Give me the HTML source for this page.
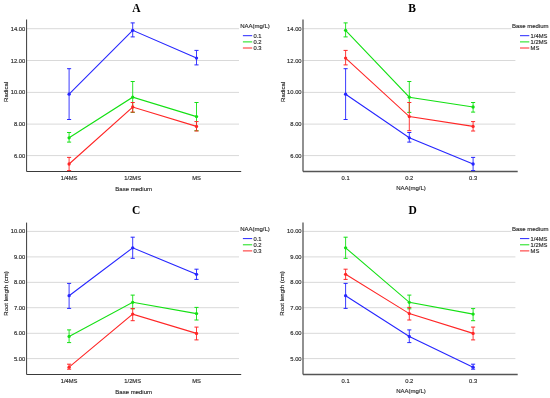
<!DOCTYPE html><html><head><meta charset="utf-8"><style>html,body{margin:0;padding:0;background:#fff;overflow:hidden}svg{display:block;filter:blur(0.35px)}.s{font-family:"Liberation Sans",sans-serif;font-size:5.80px;fill:#2a2a2a;stroke:#2a2a2a;stroke-width:0.15px}.t{font-size:6.0px}</style></head><body>
<svg width="550" height="398" viewBox="0 0 550 398">
<rect width="550" height="398" fill="#fff"/>
<defs>
<clipPath id="clipA"><rect x="26.6" y="15" width="216" height="156.5"/></clipPath>
<clipPath id="clipB"><rect x="303.0" y="15" width="216" height="156.5"/></clipPath>
<clipPath id="clipC"><rect x="26.6" y="217.9" width="216" height="156.5"/></clipPath>
<clipPath id="clipD"><rect x="303.0" y="217.9" width="216" height="156.5"/></clipPath>
</defs>
<text x="136.4" y="11.50" text-anchor="middle" font-family="Liberation Serif" font-weight="bold" font-size="11.5">A</text>
<line x1="26.6" x2="239" y1="28.70" y2="28.70" stroke="#d9d9d9" stroke-width="1"/>
<text x="25.20" y="30.75" text-anchor="end" class="s">14.00</text>
<line x1="26.6" x2="239" y1="60.50" y2="60.50" stroke="#d9d9d9" stroke-width="1"/>
<text x="25.20" y="62.55" text-anchor="end" class="s">12.00</text>
<line x1="26.6" x2="239" y1="92.40" y2="92.40" stroke="#d9d9d9" stroke-width="1"/>
<text x="25.20" y="94.45" text-anchor="end" class="s">10.00</text>
<line x1="26.6" x2="239" y1="124.10" y2="124.10" stroke="#d9d9d9" stroke-width="1"/>
<text x="25.20" y="126.15" text-anchor="end" class="s">8.00</text>
<line x1="26.6" x2="239" y1="155.60" y2="155.60" stroke="#d9d9d9" stroke-width="1"/>
<text x="25.20" y="157.65" text-anchor="end" class="s">6.00</text>
<line x1="26.6" x2="26.6" y1="19.50" y2="171.50" stroke="#3a3a3a" stroke-width="1"/>
<line x1="26.6" x2="241.2" y1="171.50" y2="171.50" stroke="#3a3a3a" stroke-width="1"/>
<text transform="translate(8.30,91.90) rotate(-90)" text-anchor="middle" class="s t">Radical</text>
<text x="69.10" y="180.10" text-anchor="middle" class="s">1/4MS</text>
<text x="132.70" y="180.10" text-anchor="middle" class="s">1/2MS</text>
<text x="196.50" y="180.10" text-anchor="middle" class="s">MS</text>
<text x="133.70" y="191.30" text-anchor="middle" class="s t">Base medium</text>
<rect x="239.7" y="22" width="309.8" height="8" fill="#fff"/>
<text x="240.2" y="28.10" class="s t">NAA(mg/L)</text>
<line x1="242.9" x2="252.20000000000002" y1="35.70" y2="35.70" stroke="#2626ff" stroke-width="1" opacity="1"/>
<text x="253.5" y="37.70" class="s">0.1</text>
<line x1="242.9" x2="252.20000000000002" y1="41.90" y2="41.90" stroke="#14e014" stroke-width="1" opacity="1"/>
<text x="253.5" y="43.90" class="s">0.2</text>
<line x1="242.9" x2="252.20000000000002" y1="48.00" y2="48.00" stroke="#ff2626" stroke-width="1" opacity="1"/>
<text x="253.5" y="50.00" class="s">0.3</text>
<g clip-path="url(#clipA)">
<line x1="69.10" x2="69.10" y1="68.70" y2="119.50" stroke="#2626ff" stroke-width="0.9"/>
<line x1="67.05" x2="71.15" y1="68.70" y2="68.70" stroke="#2626ff" stroke-width="1"/>
<line x1="67.05" x2="71.15" y1="119.50" y2="119.50" stroke="#2626ff" stroke-width="1"/>
<line x1="132.70" x2="132.70" y1="22.90" y2="36.90" stroke="#2626ff" stroke-width="0.9"/>
<line x1="130.65" x2="134.75" y1="22.90" y2="22.90" stroke="#2626ff" stroke-width="1"/>
<line x1="130.65" x2="134.75" y1="36.90" y2="36.90" stroke="#2626ff" stroke-width="1"/>
<line x1="196.50" x2="196.50" y1="50.40" y2="64.90" stroke="#2626ff" stroke-width="0.9"/>
<line x1="194.45" x2="198.55" y1="50.40" y2="50.40" stroke="#2626ff" stroke-width="1"/>
<line x1="194.45" x2="198.55" y1="64.90" y2="64.90" stroke="#2626ff" stroke-width="1"/>
<polyline points="69.10,94.20 132.70,30.30 196.50,58.10" fill="none" stroke="#2626ff" stroke-width="1.1"/>
<circle cx="69.10" cy="94.20" r="1.65" fill="#2626ff"/>
<circle cx="132.70" cy="30.30" r="1.65" fill="#2626ff"/>
<circle cx="196.50" cy="58.10" r="1.65" fill="#2626ff"/>
<line x1="69.10" x2="69.10" y1="132.50" y2="142.10" stroke="#14e014" stroke-width="0.9"/>
<line x1="67.05" x2="71.15" y1="132.50" y2="132.50" stroke="#14e014" stroke-width="1"/>
<line x1="67.05" x2="71.15" y1="142.10" y2="142.10" stroke="#14e014" stroke-width="1"/>
<line x1="132.70" x2="132.70" y1="81.50" y2="112.40" stroke="#14e014" stroke-width="0.9"/>
<line x1="130.65" x2="134.75" y1="81.50" y2="81.50" stroke="#14e014" stroke-width="1"/>
<line x1="130.65" x2="134.75" y1="112.40" y2="112.40" stroke="#14e014" stroke-width="1"/>
<line x1="196.50" x2="196.50" y1="102.50" y2="130.70" stroke="#14e014" stroke-width="0.9"/>
<line x1="194.45" x2="198.55" y1="102.50" y2="102.50" stroke="#14e014" stroke-width="1"/>
<line x1="194.45" x2="198.55" y1="130.70" y2="130.70" stroke="#14e014" stroke-width="1"/>
<polyline points="69.10,137.80 132.70,97.20 196.50,116.60" fill="none" stroke="#14e014" stroke-width="1.1"/>
<circle cx="69.10" cy="137.80" r="1.65" fill="#14e014"/>
<circle cx="132.70" cy="97.20" r="1.65" fill="#14e014"/>
<circle cx="196.50" cy="116.60" r="1.65" fill="#14e014"/>
<line x1="69.10" x2="69.10" y1="157.40" y2="170.60" stroke="#ff2626" stroke-width="0.9"/>
<line x1="67.05" x2="71.15" y1="157.40" y2="157.40" stroke="#ff2626" stroke-width="1"/>
<line x1="67.05" x2="71.15" y1="170.60" y2="170.60" stroke="#ff2626" stroke-width="1"/>
<line x1="132.70" x2="132.70" y1="102.50" y2="112.10" stroke="#ff2626" stroke-width="0.9"/>
<line x1="130.65" x2="134.75" y1="102.50" y2="102.50" stroke="#ff2626" stroke-width="1"/>
<line x1="130.65" x2="134.75" y1="112.10" y2="112.10" stroke="#ff2626" stroke-width="1"/>
<line x1="196.50" x2="196.50" y1="121.60" y2="131.00" stroke="#ff2626" stroke-width="0.9"/>
<line x1="194.45" x2="198.55" y1="121.60" y2="121.60" stroke="#ff2626" stroke-width="1"/>
<line x1="194.45" x2="198.55" y1="131.00" y2="131.00" stroke="#ff2626" stroke-width="1"/>
<polyline points="69.10,164.00 132.70,107.00 196.50,126.40" fill="none" stroke="#ff2626" stroke-width="1.1"/>
<circle cx="69.10" cy="164.00" r="1.65" fill="#ff2626"/>
<circle cx="132.70" cy="107.00" r="1.65" fill="#ff2626"/>
<circle cx="196.50" cy="126.40" r="1.65" fill="#ff2626"/>
</g>
<text x="412.2" y="11.70" text-anchor="middle" font-family="Liberation Serif" font-weight="bold" font-size="11.5">B</text>
<line x1="303.0" x2="515.4" y1="28.70" y2="28.70" stroke="#d9d9d9" stroke-width="1"/>
<text x="301.60" y="30.75" text-anchor="end" class="s">14.00</text>
<line x1="303.0" x2="515.4" y1="60.50" y2="60.50" stroke="#d9d9d9" stroke-width="1"/>
<text x="301.60" y="62.55" text-anchor="end" class="s">12.00</text>
<line x1="303.0" x2="515.4" y1="92.40" y2="92.40" stroke="#d9d9d9" stroke-width="1"/>
<text x="301.60" y="94.45" text-anchor="end" class="s">10.00</text>
<line x1="303.0" x2="515.4" y1="124.10" y2="124.10" stroke="#d9d9d9" stroke-width="1"/>
<text x="301.60" y="126.15" text-anchor="end" class="s">8.00</text>
<line x1="303.0" x2="515.4" y1="155.60" y2="155.60" stroke="#d9d9d9" stroke-width="1"/>
<text x="301.60" y="157.65" text-anchor="end" class="s">6.00</text>
<line x1="303.0" x2="303.0" y1="19.50" y2="171.50" stroke="#555" stroke-width="1.3"/>
<line x1="303.0" x2="517.7" y1="171.50" y2="171.50" stroke="#555" stroke-width="1.3"/>
<text transform="translate(284.70,91.90) rotate(-90)" text-anchor="middle" class="s t">Radical</text>
<text x="345.60" y="180.10" text-anchor="middle" class="s">0.1</text>
<text x="409.30" y="180.10" text-anchor="middle" class="s">0.2</text>
<text x="473.10" y="180.10" text-anchor="middle" class="s">0.3</text>
<text x="411.00" y="190.10" text-anchor="middle" class="s t">NAA(mg/L)</text>
<rect x="511.4" y="22" width="38.10000000000002" height="8" fill="#fff"/>
<text x="511.9" y="28.10" class="s t">Base medium</text>
<line x1="520.0" x2="529.3" y1="35.70" y2="35.70" stroke="#2626ff" stroke-width="1" opacity="1"/>
<text x="530.6" y="37.70" class="s">1/4MS</text>
<line x1="520.0" x2="529.3" y1="41.90" y2="41.90" stroke="#14e014" stroke-width="1" opacity="1"/>
<text x="530.6" y="43.90" class="s">1/2MS</text>
<line x1="520.0" x2="529.3" y1="48.00" y2="48.00" stroke="#ff2626" stroke-width="1" opacity="1"/>
<text x="530.6" y="50.00" class="s">MS</text>
<g clip-path="url(#clipB)">
<line x1="345.60" x2="345.60" y1="68.70" y2="119.50" stroke="#2626ff" stroke-width="0.9"/>
<line x1="343.55" x2="347.65" y1="68.70" y2="68.70" stroke="#2626ff" stroke-width="1"/>
<line x1="343.55" x2="347.65" y1="119.50" y2="119.50" stroke="#2626ff" stroke-width="1"/>
<line x1="409.30" x2="409.30" y1="132.50" y2="142.10" stroke="#2626ff" stroke-width="0.9"/>
<line x1="407.25" x2="411.35" y1="132.50" y2="132.50" stroke="#2626ff" stroke-width="1"/>
<line x1="407.25" x2="411.35" y1="142.10" y2="142.10" stroke="#2626ff" stroke-width="1"/>
<line x1="473.10" x2="473.10" y1="157.40" y2="170.60" stroke="#2626ff" stroke-width="0.9"/>
<line x1="471.05" x2="475.15" y1="157.40" y2="157.40" stroke="#2626ff" stroke-width="1"/>
<line x1="471.05" x2="475.15" y1="170.60" y2="170.60" stroke="#2626ff" stroke-width="1"/>
<polyline points="345.60,94.20 409.30,137.80 473.10,164.00" fill="none" stroke="#2626ff" stroke-width="1.1"/>
<circle cx="345.60" cy="94.20" r="1.65" fill="#2626ff"/>
<circle cx="409.30" cy="137.80" r="1.65" fill="#2626ff"/>
<circle cx="473.10" cy="164.00" r="1.65" fill="#2626ff"/>
<line x1="345.60" x2="345.60" y1="22.90" y2="36.90" stroke="#14e014" stroke-width="0.9"/>
<line x1="343.55" x2="347.65" y1="22.90" y2="22.90" stroke="#14e014" stroke-width="1"/>
<line x1="343.55" x2="347.65" y1="36.90" y2="36.90" stroke="#14e014" stroke-width="1"/>
<line x1="409.30" x2="409.30" y1="81.50" y2="112.40" stroke="#14e014" stroke-width="0.9"/>
<line x1="407.25" x2="411.35" y1="81.50" y2="81.50" stroke="#14e014" stroke-width="1"/>
<line x1="407.25" x2="411.35" y1="112.40" y2="112.40" stroke="#14e014" stroke-width="1"/>
<line x1="473.10" x2="473.10" y1="102.50" y2="112.10" stroke="#14e014" stroke-width="0.9"/>
<line x1="471.05" x2="475.15" y1="102.50" y2="102.50" stroke="#14e014" stroke-width="1"/>
<line x1="471.05" x2="475.15" y1="112.10" y2="112.10" stroke="#14e014" stroke-width="1"/>
<polyline points="345.60,30.30 409.30,97.20 473.10,107.00" fill="none" stroke="#14e014" stroke-width="1.1"/>
<circle cx="345.60" cy="30.30" r="1.65" fill="#14e014"/>
<circle cx="409.30" cy="97.20" r="1.65" fill="#14e014"/>
<circle cx="473.10" cy="107.00" r="1.65" fill="#14e014"/>
<line x1="345.60" x2="345.60" y1="50.40" y2="64.90" stroke="#ff2626" stroke-width="0.9"/>
<line x1="343.55" x2="347.65" y1="50.40" y2="50.40" stroke="#ff2626" stroke-width="1"/>
<line x1="343.55" x2="347.65" y1="64.90" y2="64.90" stroke="#ff2626" stroke-width="1"/>
<line x1="409.30" x2="409.30" y1="102.50" y2="130.70" stroke="#ff2626" stroke-width="0.9"/>
<line x1="407.25" x2="411.35" y1="102.50" y2="102.50" stroke="#ff2626" stroke-width="1"/>
<line x1="407.25" x2="411.35" y1="130.70" y2="130.70" stroke="#ff2626" stroke-width="1"/>
<line x1="473.10" x2="473.10" y1="121.60" y2="131.00" stroke="#ff2626" stroke-width="0.9"/>
<line x1="471.05" x2="475.15" y1="121.60" y2="121.60" stroke="#ff2626" stroke-width="1"/>
<line x1="471.05" x2="475.15" y1="131.00" y2="131.00" stroke="#ff2626" stroke-width="1"/>
<polyline points="345.60,58.10 409.30,116.60 473.10,126.40" fill="none" stroke="#ff2626" stroke-width="1.1"/>
<circle cx="345.60" cy="58.10" r="1.65" fill="#ff2626"/>
<circle cx="409.30" cy="116.60" r="1.65" fill="#ff2626"/>
<circle cx="473.10" cy="126.40" r="1.65" fill="#ff2626"/>
</g>
<text x="136.2" y="214.10" text-anchor="middle" font-family="Liberation Serif" font-weight="bold" font-size="11.5">C</text>
<line x1="26.6" x2="239" y1="231.40" y2="231.40" stroke="#d9d9d9" stroke-width="1"/>
<text x="25.20" y="233.45" text-anchor="end" class="s">10.00</text>
<line x1="26.6" x2="239" y1="256.90" y2="256.90" stroke="#d9d9d9" stroke-width="1"/>
<text x="25.20" y="258.95" text-anchor="end" class="s">9.00</text>
<line x1="26.6" x2="239" y1="282.35" y2="282.35" stroke="#d9d9d9" stroke-width="1"/>
<text x="25.20" y="284.40" text-anchor="end" class="s">8.00</text>
<line x1="26.6" x2="239" y1="307.70" y2="307.70" stroke="#d9d9d9" stroke-width="1"/>
<text x="25.20" y="309.75" text-anchor="end" class="s">7.00</text>
<line x1="26.6" x2="239" y1="333.30" y2="333.30" stroke="#d9d9d9" stroke-width="1"/>
<text x="25.20" y="335.35" text-anchor="end" class="s">6.00</text>
<line x1="26.6" x2="239" y1="358.60" y2="358.60" stroke="#d9d9d9" stroke-width="1"/>
<text x="25.20" y="360.65" text-anchor="end" class="s">5.00</text>
<line x1="26.6" x2="26.6" y1="222.60" y2="374.50" stroke="#3a3a3a" stroke-width="1"/>
<line x1="26.6" x2="241.2" y1="374.50" y2="374.50" stroke="#3a3a3a" stroke-width="1"/>
<text transform="translate(7.50,293.50) rotate(-90)" text-anchor="middle" class="s t">Root length (cm)</text>
<text x="69.10" y="383.00" text-anchor="middle" class="s">1/4MS</text>
<text x="132.70" y="383.00" text-anchor="middle" class="s">1/2MS</text>
<text x="196.50" y="383.00" text-anchor="middle" class="s">MS</text>
<text x="133.70" y="394.10" text-anchor="middle" class="s t">Base medium</text>
<rect x="239.7" y="224.9" width="309.8" height="8" fill="#fff"/>
<text x="240.2" y="231.00" class="s t">NAA(mg/L)</text>
<line x1="242.9" x2="252.20000000000002" y1="238.60" y2="238.60" stroke="#2626ff" stroke-width="1" opacity="1"/>
<text x="253.5" y="240.60" class="s">0.1</text>
<line x1="242.9" x2="252.20000000000002" y1="244.80" y2="244.80" stroke="#14e014" stroke-width="1" opacity="1"/>
<text x="253.5" y="246.80" class="s">0.2</text>
<line x1="242.9" x2="252.20000000000002" y1="250.90" y2="250.90" stroke="#ff2626" stroke-width="1" opacity="1"/>
<text x="253.5" y="252.90" class="s">0.3</text>
<g clip-path="url(#clipC)">
<line x1="69.10" x2="69.10" y1="283.40" y2="308.40" stroke="#2626ff" stroke-width="0.9"/>
<line x1="67.05" x2="71.15" y1="283.40" y2="283.40" stroke="#2626ff" stroke-width="1"/>
<line x1="67.05" x2="71.15" y1="308.40" y2="308.40" stroke="#2626ff" stroke-width="1"/>
<line x1="132.70" x2="132.70" y1="237.20" y2="258.30" stroke="#2626ff" stroke-width="0.9"/>
<line x1="130.65" x2="134.75" y1="237.20" y2="237.20" stroke="#2626ff" stroke-width="1"/>
<line x1="130.65" x2="134.75" y1="258.30" y2="258.30" stroke="#2626ff" stroke-width="1"/>
<line x1="196.50" x2="196.50" y1="269.20" y2="279.40" stroke="#2626ff" stroke-width="0.9"/>
<line x1="194.45" x2="198.55" y1="269.20" y2="269.20" stroke="#2626ff" stroke-width="1"/>
<line x1="194.45" x2="198.55" y1="279.40" y2="279.40" stroke="#2626ff" stroke-width="1"/>
<polyline points="69.10,295.70 132.70,247.80 196.50,274.30" fill="none" stroke="#2626ff" stroke-width="1.1"/>
<circle cx="69.10" cy="295.70" r="1.65" fill="#2626ff"/>
<circle cx="132.70" cy="247.80" r="1.65" fill="#2626ff"/>
<circle cx="196.50" cy="274.30" r="1.65" fill="#2626ff"/>
<line x1="69.10" x2="69.10" y1="329.90" y2="342.60" stroke="#14e014" stroke-width="0.9"/>
<line x1="67.05" x2="71.15" y1="329.90" y2="329.90" stroke="#14e014" stroke-width="1"/>
<line x1="67.05" x2="71.15" y1="342.60" y2="342.60" stroke="#14e014" stroke-width="1"/>
<line x1="132.70" x2="132.70" y1="295.10" y2="308.80" stroke="#14e014" stroke-width="0.9"/>
<line x1="130.65" x2="134.75" y1="295.10" y2="295.10" stroke="#14e014" stroke-width="1"/>
<line x1="130.65" x2="134.75" y1="308.80" y2="308.80" stroke="#14e014" stroke-width="1"/>
<line x1="196.50" x2="196.50" y1="307.40" y2="320.00" stroke="#14e014" stroke-width="0.9"/>
<line x1="194.45" x2="198.55" y1="307.40" y2="307.40" stroke="#14e014" stroke-width="1"/>
<line x1="194.45" x2="198.55" y1="320.00" y2="320.00" stroke="#14e014" stroke-width="1"/>
<polyline points="69.10,336.40 132.70,302.30 196.50,313.60" fill="none" stroke="#14e014" stroke-width="1.1"/>
<circle cx="69.10" cy="336.40" r="1.65" fill="#14e014"/>
<circle cx="132.70" cy="302.30" r="1.65" fill="#14e014"/>
<circle cx="196.50" cy="313.60" r="1.65" fill="#14e014"/>
<line x1="69.10" x2="69.10" y1="364.20" y2="369.20" stroke="#ff2626" stroke-width="0.9"/>
<line x1="67.05" x2="71.15" y1="364.20" y2="364.20" stroke="#ff2626" stroke-width="1"/>
<line x1="67.05" x2="71.15" y1="369.20" y2="369.20" stroke="#ff2626" stroke-width="1"/>
<line x1="132.70" x2="132.70" y1="308.60" y2="320.70" stroke="#ff2626" stroke-width="0.9"/>
<line x1="130.65" x2="134.75" y1="308.60" y2="308.60" stroke="#ff2626" stroke-width="1"/>
<line x1="130.65" x2="134.75" y1="320.70" y2="320.70" stroke="#ff2626" stroke-width="1"/>
<line x1="196.50" x2="196.50" y1="327.10" y2="339.90" stroke="#ff2626" stroke-width="0.9"/>
<line x1="194.45" x2="198.55" y1="327.10" y2="327.10" stroke="#ff2626" stroke-width="1"/>
<line x1="194.45" x2="198.55" y1="339.90" y2="339.90" stroke="#ff2626" stroke-width="1"/>
<polyline points="69.10,367.20 132.70,314.10 196.50,333.40" fill="none" stroke="#ff2626" stroke-width="1.1"/>
<circle cx="69.10" cy="367.20" r="1.65" fill="#ff2626"/>
<circle cx="132.70" cy="314.10" r="1.65" fill="#ff2626"/>
<circle cx="196.50" cy="333.40" r="1.65" fill="#ff2626"/>
</g>
<text x="412.6" y="214.40" text-anchor="middle" font-family="Liberation Serif" font-weight="bold" font-size="11.5">D</text>
<line x1="303.0" x2="515.4" y1="231.40" y2="231.40" stroke="#d9d9d9" stroke-width="1"/>
<text x="301.60" y="233.45" text-anchor="end" class="s">10.00</text>
<line x1="303.0" x2="515.4" y1="256.90" y2="256.90" stroke="#d9d9d9" stroke-width="1"/>
<text x="301.60" y="258.95" text-anchor="end" class="s">9.00</text>
<line x1="303.0" x2="515.4" y1="282.35" y2="282.35" stroke="#d9d9d9" stroke-width="1"/>
<text x="301.60" y="284.40" text-anchor="end" class="s">8.00</text>
<line x1="303.0" x2="515.4" y1="307.70" y2="307.70" stroke="#d9d9d9" stroke-width="1"/>
<text x="301.60" y="309.75" text-anchor="end" class="s">7.00</text>
<line x1="303.0" x2="515.4" y1="333.30" y2="333.30" stroke="#d9d9d9" stroke-width="1"/>
<text x="301.60" y="335.35" text-anchor="end" class="s">6.00</text>
<line x1="303.0" x2="515.4" y1="358.60" y2="358.60" stroke="#d9d9d9" stroke-width="1"/>
<text x="301.60" y="360.65" text-anchor="end" class="s">5.00</text>
<line x1="303.0" x2="303.0" y1="222.60" y2="374.50" stroke="#555" stroke-width="1.3"/>
<line x1="303.0" x2="517.7" y1="374.50" y2="374.50" stroke="#555" stroke-width="1.3"/>
<text transform="translate(283.90,293.50) rotate(-90)" text-anchor="middle" class="s t">Root length (cm)</text>
<text x="345.60" y="383.00" text-anchor="middle" class="s">0.1</text>
<text x="409.30" y="383.00" text-anchor="middle" class="s">0.2</text>
<text x="473.10" y="383.00" text-anchor="middle" class="s">0.3</text>
<text x="411.00" y="393.00" text-anchor="middle" class="s t">NAA(mg/L)</text>
<rect x="511.4" y="224.9" width="38.10000000000002" height="8" fill="#fff"/>
<text x="511.9" y="231.00" class="s t">Base medium</text>
<line x1="520.0" x2="529.3" y1="238.60" y2="238.60" stroke="#2626ff" stroke-width="1" opacity="1"/>
<text x="530.6" y="240.60" class="s">1/4MS</text>
<line x1="520.0" x2="529.3" y1="244.80" y2="244.80" stroke="#14e014" stroke-width="1" opacity="1"/>
<text x="530.6" y="246.80" class="s">1/2MS</text>
<line x1="520.0" x2="529.3" y1="250.90" y2="250.90" stroke="#ff2626" stroke-width="1" opacity="1"/>
<text x="530.6" y="252.90" class="s">MS</text>
<g clip-path="url(#clipD)">
<line x1="345.60" x2="345.60" y1="283.40" y2="308.40" stroke="#2626ff" stroke-width="0.9"/>
<line x1="343.55" x2="347.65" y1="283.40" y2="283.40" stroke="#2626ff" stroke-width="1"/>
<line x1="343.55" x2="347.65" y1="308.40" y2="308.40" stroke="#2626ff" stroke-width="1"/>
<line x1="409.30" x2="409.30" y1="329.90" y2="342.60" stroke="#2626ff" stroke-width="0.9"/>
<line x1="407.25" x2="411.35" y1="329.90" y2="329.90" stroke="#2626ff" stroke-width="1"/>
<line x1="407.25" x2="411.35" y1="342.60" y2="342.60" stroke="#2626ff" stroke-width="1"/>
<line x1="473.10" x2="473.10" y1="364.20" y2="369.20" stroke="#2626ff" stroke-width="0.9"/>
<line x1="471.05" x2="475.15" y1="364.20" y2="364.20" stroke="#2626ff" stroke-width="1"/>
<line x1="471.05" x2="475.15" y1="369.20" y2="369.20" stroke="#2626ff" stroke-width="1"/>
<polyline points="345.60,295.70 409.30,336.40 473.10,367.20" fill="none" stroke="#2626ff" stroke-width="1.1"/>
<circle cx="345.60" cy="295.70" r="1.65" fill="#2626ff"/>
<circle cx="409.30" cy="336.40" r="1.65" fill="#2626ff"/>
<circle cx="473.10" cy="367.20" r="1.65" fill="#2626ff"/>
<line x1="345.60" x2="345.60" y1="237.20" y2="258.30" stroke="#14e014" stroke-width="0.9"/>
<line x1="343.55" x2="347.65" y1="237.20" y2="237.20" stroke="#14e014" stroke-width="1"/>
<line x1="343.55" x2="347.65" y1="258.30" y2="258.30" stroke="#14e014" stroke-width="1"/>
<line x1="409.30" x2="409.30" y1="295.10" y2="308.80" stroke="#14e014" stroke-width="0.9"/>
<line x1="407.25" x2="411.35" y1="295.10" y2="295.10" stroke="#14e014" stroke-width="1"/>
<line x1="407.25" x2="411.35" y1="308.80" y2="308.80" stroke="#14e014" stroke-width="1"/>
<line x1="473.10" x2="473.10" y1="308.60" y2="320.70" stroke="#14e014" stroke-width="0.9"/>
<line x1="471.05" x2="475.15" y1="308.60" y2="308.60" stroke="#14e014" stroke-width="1"/>
<line x1="471.05" x2="475.15" y1="320.70" y2="320.70" stroke="#14e014" stroke-width="1"/>
<polyline points="345.60,247.80 409.30,302.30 473.10,314.10" fill="none" stroke="#14e014" stroke-width="1.1"/>
<circle cx="345.60" cy="247.80" r="1.65" fill="#14e014"/>
<circle cx="409.30" cy="302.30" r="1.65" fill="#14e014"/>
<circle cx="473.10" cy="314.10" r="1.65" fill="#14e014"/>
<line x1="345.60" x2="345.60" y1="269.20" y2="279.40" stroke="#ff2626" stroke-width="0.9"/>
<line x1="343.55" x2="347.65" y1="269.20" y2="269.20" stroke="#ff2626" stroke-width="1"/>
<line x1="343.55" x2="347.65" y1="279.40" y2="279.40" stroke="#ff2626" stroke-width="1"/>
<line x1="409.30" x2="409.30" y1="307.40" y2="320.00" stroke="#ff2626" stroke-width="0.9"/>
<line x1="407.25" x2="411.35" y1="307.40" y2="307.40" stroke="#ff2626" stroke-width="1"/>
<line x1="407.25" x2="411.35" y1="320.00" y2="320.00" stroke="#ff2626" stroke-width="1"/>
<line x1="473.10" x2="473.10" y1="327.10" y2="339.90" stroke="#ff2626" stroke-width="0.9"/>
<line x1="471.05" x2="475.15" y1="327.10" y2="327.10" stroke="#ff2626" stroke-width="1"/>
<line x1="471.05" x2="475.15" y1="339.90" y2="339.90" stroke="#ff2626" stroke-width="1"/>
<polyline points="345.60,274.30 409.30,313.60 473.10,333.40" fill="none" stroke="#ff2626" stroke-width="1.1"/>
<circle cx="345.60" cy="274.30" r="1.65" fill="#ff2626"/>
<circle cx="409.30" cy="313.60" r="1.65" fill="#ff2626"/>
<circle cx="473.10" cy="333.40" r="1.65" fill="#ff2626"/>
</g>
</svg></body></html>
